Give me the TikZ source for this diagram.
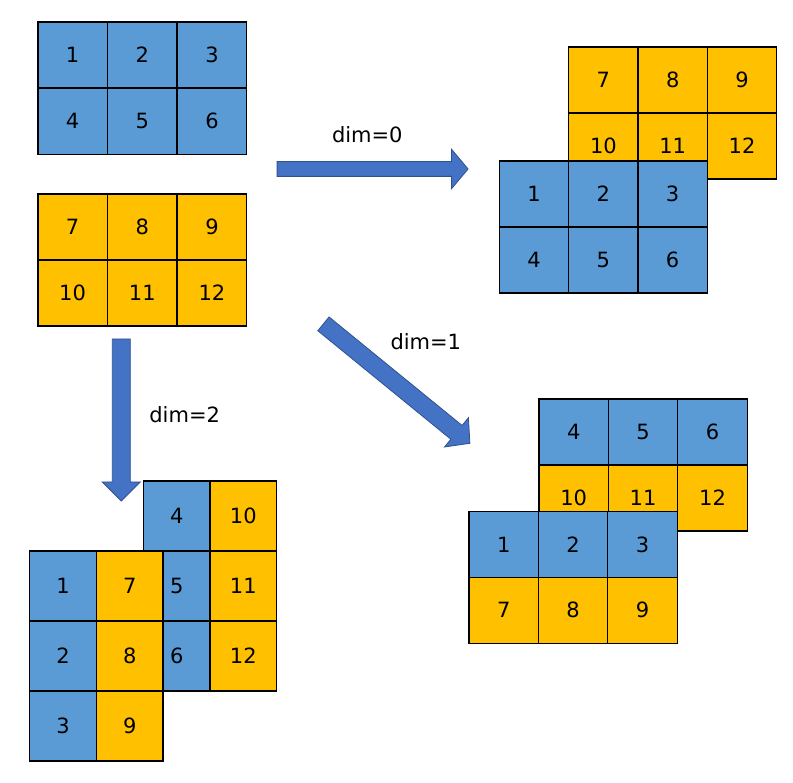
\documentclass[tikz,border=0pt]{standalone}
\usepackage{fontspec}
\setmainfont{DejaVu Sans}
\usetikzlibrary{shapes.arrows}
\definecolor{cellblue}{HTML}{5B9BD5}
\definecolor{cellorange}{HTML}{FFC000}
\definecolor{arrowblue}{HTML}{4472C4}
\definecolor{arrowedge}{HTML}{2F528F}
\tikzset{
  cell/.style={draw=black, line width=1.3pt, minimum width=69.5pt, minimum height=66pt,
    inner sep=0pt, font=\fontsize{21}{25}\selectfont},
  bluecell/.style={cell, fill=cellblue},
  orangecell/.style={cell, fill=cellorange},
  tallcell/.style={minimum width=66.7pt, minimum height=70pt},
  blockarrow/.style={single arrow, draw=arrowedge, line width=0.8pt, fill=arrowblue,
    single arrow head indent=0pt},
  dimlabel/.style={font=\fontsize{21}{25}\selectfont, inner sep=0pt}
}
\begin{document}
\begin{tikzpicture}[x=1pt, y=-1pt]
  \useasboundingbox (0,0) rectangle (793,783);

  % Inputs: blue 1..6 and orange 7..12
  \foreach \n [count=\i from 0] in {1,...,6} {
    \pgfmathtruncatemacro{\c}{mod(\i,3)}
    \pgfmathtruncatemacro{\r}{\i/3}
    \node[bluecell] (in\n) at ({72.6+69.7*\c},{54.9+66.3*\r}) {\n};
  }
  \foreach \n [count=\i from 0] in {7,...,12} {
    \pgfmathtruncatemacro{\c}{mod(\i,3)}
    \pgfmathtruncatemacro{\r}{\i/3}
    \node[orangecell] (in\n) at ({72.6+69.7*\c},{227+66*\r}) {\n};
  }

  % dim=0: orange behind, blue in front
  \foreach \n [count=\i from 0] in {7,...,12} {
    \pgfmathtruncatemacro{\c}{mod(\i,3)}
    \pgfmathtruncatemacro{\r}{\i/3}
    \node[orangecell] (za\n) at ({603.4+69.3*\c},{80+66*\r}) {\n};
  }
  \foreach \n [count=\i from 0] in {1,...,6} {
    \pgfmathtruncatemacro{\c}{mod(\i,3)}
    \pgfmathtruncatemacro{\r}{\i/3}
    \node[bluecell] (za\n) at ({534+69.3*\c},{194+65.9*\r}) {\n};
  }

  % dim=1: rows 4-6 / 10-12 behind, rows 1-3 / 7-9 in front
  \foreach \n [count=\i from 0] in {4,5,6} {
    \node[bluecell] (oa\n) at ({573.7+69.4*\i},432) {\n};
  }
  \foreach \n [count=\i from 0] in {10,11,12} {
    \node[orangecell] (oa\n) at ({573.7+69.4*\i},498) {\n};
  }
  \foreach \n [count=\i from 0] in {1,2,3} {
    \node[bluecell] (oa\n) at ({503.7+69.4*\i},544.5) {\n};
  }
  \foreach \n [count=\i from 0] in {7,8,9} {
    \node[orangecell] (oa\n) at ({503.7+69.4*\i},610.3) {\n};
  }

  % dim=2: columns 4-6 / 10-12 behind, columns 1-3 / 7-9 in front
  \foreach \n [count=\i from 0] in {4,5,6} {
    \node[bluecell, tallcell] (ta\n) at (176.7,{516+70*\i}) {\n};
  }
  \foreach \n [count=\i from 0] in {10,11,12} {
    \node[orangecell, tallcell] (ta\n) at (243.3,{516+70*\i}) {\n};
  }
  \foreach \n [count=\i from 0] in {1,2,3} {
    \node[bluecell, tallcell] (ta\n) at (63,{586+70*\i}) {\n};
  }
  \foreach \n [count=\i from 0] in {7,8,9} {
    \node[orangecell, tallcell] (ta\n) at (129.7,{586+70*\i}) {\n};
  }

  % Arrows
  \node[blockarrow, minimum height=191pt, inner sep=7pt, single arrow head extend=12.5pt,
    single arrow tip angle=100] (arr0) at (369.5,169) {};
  \node[blockarrow, rotate=-39.2, minimum height=189pt, inner sep=8.5pt,
    single arrow head extend=10pt, single arrow tip angle=95] (arr1) at (393.5,381) {};
  \node[blockarrow, rotate=-90, minimum height=162pt, inner sep=8.6pt,
    single arrow head extend=10pt, single arrow tip angle=90] (arr2) at (121.3,415.5) {};

  \node[dimlabel] (lab0) at (367.3,135) {dim=0};
  \node[dimlabel] (lab1) at (425.8,341.7) {dim=1};
  \node[dimlabel] (lab2) at (184.7,415) {dim=2};
\end{tikzpicture}
\end{document}
